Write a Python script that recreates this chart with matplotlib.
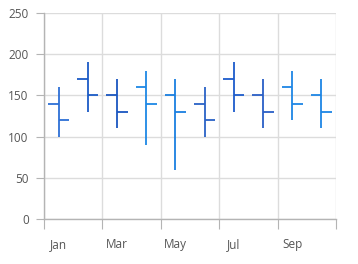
import matplotlib.pyplot as plt
import numpy as np

months = ['Jan', 'Feb', 'Mar', 'Apr', 'May', 'Jun', 'Jul', 'Aug', 'Sep', 'Oct']
open_ = [140, 170, 150, 160, 150, 140, 170, 150, 160, 150]
high = [160, 190, 170, 180, 170, 160, 190, 170, 180, 170]
low = [100, 130, 110, 90, 60, 100, 130, 110, 120, 110]
close = [120, 150, 130, 140, 130, 120, 150, 130, 140, 130]

colors = ['#2d6fd6', '#1b5bc6', '#1a56c0', '#1e88e5', '#1a7fe0',
          '#2a62c6', '#1d5ccb', '#2a5fc6', '#1e86e5', '#1e86e5']

plt.rcParams['font.family'] = ['Open Sans', 'DejaVu Sans']

fig = plt.figure(figsize=(3.58, 2.64), dpi=100)
ax = fig.add_axes([44 / 358, 45 / 264, 292 / 358, 206 / 264])

x = np.arange(len(months))
tick = 0.36
lw = 1.3
for i in x:
    c = colors[i]
    ax.plot([i, i], [low[i], high[i]], color=c, lw=lw, solid_capstyle='butt')
    ax.plot([i - tick, i], [open_[i], open_[i]], color=c, lw=lw, solid_capstyle='butt')
    ax.plot([i, i + tick], [close[i], close[i]], color=c, lw=lw, solid_capstyle='butt')

ax.set_xlim(-0.5, len(months) - 0.5)
ax.set_ylim(0, 250)
ax.set_yticks(np.arange(0, 251, 50))

ax.set_xticks(np.arange(-0.5, len(months), 2))
ax.set_xticklabels([])
ax.set_xticks(x[::2], minor=True)
ax.set_xticklabels(months[::2], minor=True)

ax.grid(True, color='#dcdcdc', lw=1)
ax.set_axisbelow(True)
for s in ['top', 'right']:
    ax.spines[s].set_visible(False)
for s in ['left', 'bottom']:
    ax.spines[s].set_color('#b4b4b4')
    ax.spines[s].set_linewidth(1)

ax.tick_params(axis='y', length=6, color='#b4b4b4', labelcolor='#555555',
               labelsize=8.5, pad=5)
ax.tick_params(axis='x', which='major', length=7, color='#b4b4b4')
ax.tick_params(axis='x', which='minor', length=0, labelcolor='#555555',
               labelsize=8.5, pad=14)

fig.savefig('out.png', dpi=100)
